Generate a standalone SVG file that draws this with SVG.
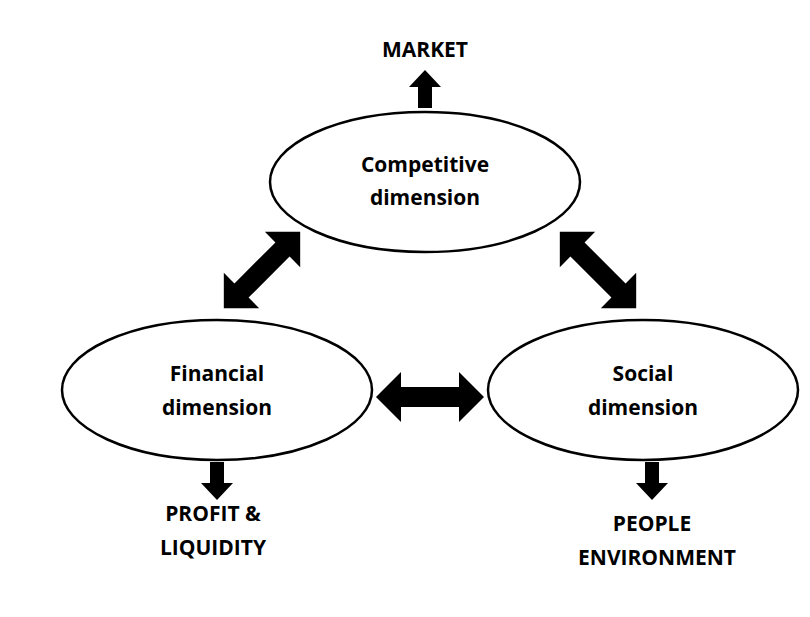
<svg xmlns="http://www.w3.org/2000/svg" width="810" height="617" viewBox="0 0 810 617">
<defs>
<style>
.n{fill:#fff;stroke:#000;stroke-width:2.5}
.t{font-family:"Open Sans","Noto Sans",sans-serif;font-weight:bold;font-size:21px;text-anchor:middle;fill:#000}
.a{fill:#000}
</style>
<polygon id="dbl" points="-54,0 -29,-25 -29,-10 29,-10 29,-25 54,0 29,25 29,10 -29,10 -29,25"/>
<polygon id="up" points="0,0 -16,17 -7,17 -7,38 7,38 7,17 16,17"/>
</defs>
<rect width="810" height="617" fill="#fff"/>
<g id="competitive"><ellipse class="n" cx="425" cy="182" rx="155" ry="70"/><text class="t" x="425" y="172">Competitive</text><text class="t" x="425" y="205">dimension</text></g>
<g id="financial"><ellipse class="n" cx="217" cy="390" rx="155" ry="70"/><text class="t" x="217" y="381">Financial</text><text class="t" x="217" y="415">dimension</text></g>
<g id="social"><ellipse class="n" cx="643" cy="390" rx="155" ry="70"/><text class="t" x="643" y="381">Social</text><text class="t" x="643" y="415">dimension</text></g>
<g id="market"><text class="t" x="425" y="57">MARKET</text></g>
<g id="profit"><text class="t" x="213" y="521">PROFIT &amp;</text><text class="t" x="213" y="555">LIQUIDITY</text></g>
<g id="people"><text class="t" x="652" y="531">PEOPLE</text><text class="t" x="657" y="565">ENVIRONMENT</text></g>
<g id="connectors" class="a">
<use href="#up" x="425" y="70"/>
<use href="#up" transform="translate(217,500) rotate(180)"/>
<use href="#up" transform="translate(652,500) rotate(180)"/>
<use href="#dbl" transform="translate(430,397)"/>
<use href="#dbl" transform="translate(262,270) rotate(-45)"/>
<use href="#dbl" transform="translate(598,270) rotate(45)"/>
</g>
</svg>
